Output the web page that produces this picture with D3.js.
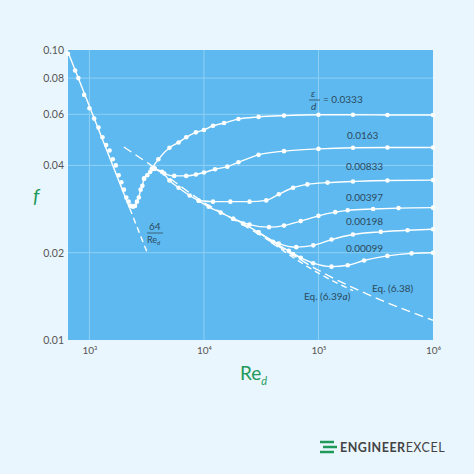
<!DOCTYPE html><html><head><script src="https://cdn.jsdelivr.net/npm/d3@7"></script>
<style>body{margin:0;background:#eaf6fd;font-family:Lato,"Open Sans",sans-serif}</style></head><body>
<svg id="c" width="474" height="474"></svg>
<script>
const xTicks=[1e3,1e4,1e5,1e6];
const xTickLabels=["10³","10⁴","10⁵","10⁶"];
const yTicks=[0.01,0.02,0.04,0.06,0.08,0.10];
const yTickLabels=["0.01","0.02","0.04","0.06","0.08","0.10"];
const laminarPts=[[650,0.097],[750,0.085],[800,0.08],[900,0.07],[1000,0.063],[1100,0.058],[1200,0.054],[1300,0.050],[1400,0.047],[1500,0.045],[1600,0.042],[1700,0.040],[1800,0.037],[1900,0.035],[2000,0.033],[2100,0.031],[2200,0.030],[2300,0.029],[2400,0.0288],[2500,0.029],[2600,0.030],[2700,0.031],[2800,0.033],[2900,0.034],[3000,0.036],[3200,0.037],[3400,0.038],[3700,0.039]];
const laminarLine=[[650,0.0985],[2250,0.0284]];
const laminarDash=[[2250,0.0284],[3200,0.020]];
const smoothPts=[[3700,0.039],[4300,0.038],[5000,0.0355],[6000,0.0335],[7500,0.0315],[9000,0.0302],[11000,0.0288],[14000,0.0275],[18000,0.0262],[22000,0.0252],[30000,0.0235],[40000,0.0218],[55000,0.0203],[70000,0.0192]];
const eq638=[[2000,0.0463],[4000,0.0385],[10000,0.0298],[20000,0.0255],[50000,0.0205],[100000,0.0174],[300000,0.0141],[1000000,0.0117]];
const eq639a=[[40000,0.0215],[100000,0.0170],[200000,0.0148]];
const series=[
 {label:"0.0333",pts:[[3000,0.036],[3500,0.039],[4000,0.042],[5000,0.046],[6000,0.048],[7000,0.050],[8500,0.052],[10000,0.053],[12000,0.0548],[15000,0.056],[20000,0.0578],[30000,0.0588],[50000,0.0594],[100000,0.0598],[200000,0.0598],[400000,0.0597],[1000000,0.0597]]},
 {label:"0.0163",pts:[[3700,0.039],[4500,0.0375],[5500,0.0368],[7000,0.0368],[8500,0.0372],[10000,0.0378],[12500,0.0388],[16000,0.0396],[20000,0.041],[30000,0.0435],[50000,0.0448],[100000,0.0456],[200000,0.046],[400000,0.0461],[1000000,0.0461]]},
 {label:"0.00833",pts:[[9000,0.0302],[12000,0.0300],[17000,0.0300],[25000,0.0300],[35000,0.0303],[45000,0.0318],[60000,0.0335],[80000,0.0344],[120000,0.0349],[200000,0.0352],[400000,0.0355],[1000000,0.0356]]},
 {label:"0.00397",pts:[[18000,0.0262],[25000,0.0250],[37000,0.0245],[50000,0.0248],[70000,0.0257],[100000,0.0268],[140000,0.0276],[180000,0.028],[300000,0.0283],[500000,0.0285],[1000000,0.0286]]},
 {label:"0.00198",pts:[[30000,0.0235],[45000,0.0215],[64000,0.0209],[90000,0.0212],[130000,0.0222],[200000,0.0231],[350000,0.0236],[600000,0.0239],[1000000,0.0241]]},
 {label:"0.00099",pts:[[60000,0.0198],[90000,0.0184],[130000,0.0179],[180000,0.0181],[250000,0.0188],[400000,0.0195],[650000,0.0199],[1000000,0.0200]]}
];
const labelPos=[[308,103],[347,139],[346,170],[346,201],[346,225],[346,252]];
const svg=d3.select("#c");
const L=68,R=433,T=50,B=340;
const x=d3.scaleLog().domain([650,1e6]).range([L,R]);
const y=d3.scaleLog().domain([0.01,0.1]).range([B,T]);
svg.append("rect").attr("x",L).attr("y",T).attr("width",R-L).attr("height",B-T).attr("fill","#5db9ef");
const g=svg.append("g");
xTicks.slice(0,3).forEach(t=>g.append("line").attr("x1",x(t)).attr("x2",x(t)).attr("y1",T).attr("y2",B).attr("stroke","#8fd0f5").attr("stroke-width",1));
[0.02,0.04,0.06,0.08].forEach(t=>g.append("line").attr("x1",L).attr("x2",R).attr("y1",y(t)).attr("y2",y(t)).attr("stroke","#8fd0f5").attr("stroke-width",1));
const ya=d3.axisLeft(y).tickValues(yTicks).tickFormat((d,i)=>yTickLabels[i]).tickSize(0).tickPadding(4);
const ga=svg.append("g").attr("transform",`translate(${L},0)`).call(ya);
ga.select(".domain").remove();
ga.selectAll("text").attr("fill","#555").style("font-size","10.5px").style("font-family","Lato");
const xa=d3.axisBottom(x).tickValues(xTicks).tickFormat((d,i)=>xTickLabels[i]).tickSize(0).tickPadding(7);
const gx=svg.append("g").attr("transform",`translate(0,${B})`).call(xa);
gx.select(".domain").remove();
gx.selectAll("text").attr("fill","#555").style("font-size","10px").style("font-family","Lato");
const line=d3.line().x(d=>x(d[0])).y(d=>y(d[1])).curve(d3.curveMonotoneX);
const W="#fff";
function path(d,dash,w){svg.append("path").datum(d).attr("d",line).attr("fill","none").attr("stroke",W).attr("stroke-width",w||1.4).attr("stroke-dasharray",dash||null);}
path(laminarLine);path(laminarDash,"6,4");
path(eq638,"9,5");path(eq639a,"6,4");
path(laminarPts.slice(18));path(smoothPts);
series.forEach(s=>path(s.pts));
function dots(pts){svg.append("g").selectAll("circle").data(pts).join("circle").attr("cx",d=>x(d[0])).attr("cy",d=>y(d[1])).attr("r",2.3).attr("fill",W);}
dots(laminarPts);dots(smoothPts);series.forEach(s=>dots(s.pts));
const tc="#2d4a5e";
series.forEach((s,i)=>{svg.append("text").attr("x",labelPos[i][0]+(i==0?15:0)).attr("y",labelPos[i][1]).text(i==0?"= "+s.label:s.label).attr("fill",tc).style("font-size","10px");});
const ed=svg.append("g").attr("fill",tc).style("font-size","10px");
ed.append("text").attr("x",311).attr("y",97).text("ε").style("font-style","italic");
ed.append("line").attr("x1",309).attr("x2",320).attr("y1",100).attr("y2",100).attr("stroke",tc).attr("stroke-width",0.8);
ed.append("text").attr("x",311).attr("y",110).text("d").style("font-style","italic");
svg.append("text").attr("x",372).attr("y",292).text("Eq. (6.38)").attr("fill",tc).style("font-size","10px");
const t2=svg.append("text").attr("x",304).attr("y",300).attr("fill",tc).style("font-size","10px");
t2.append("tspan").text("Eq. (6.39");t2.append("tspan").text("a").style("font-style","italic");t2.append("tspan").text(")");
svg.append("text").attr("x",149).attr("y",230).text("64").attr("fill",tc).style("font-size","10px");
svg.append("line").attr("x1",147).attr("x2",163).attr("y1",233).attr("y2",233).attr("stroke",tc).attr("stroke-width",0.8);
const r=svg.append("text").attr("x",147).attr("y",243).attr("fill",tc).style("font-size","9px");
r.append("tspan").text("Re");r.append("tspan").text("d").attr("dy",2).style("font-size","6px").style("font-style","italic");
svg.append("text").attr("x",33).attr("y",203).text("f").attr("fill","#1f9a5b").style("font-size","20px").style("font-style","italic");
const re=svg.append("text").attr("x",240).attr("y",380).attr("fill","#1f9a5b").style("font-size","19px");
re.append("tspan").text("Re");re.append("tspan").text("d").attr("dy",5).style("font-size","11px").style("font-style","italic");
const lg=svg.append("g");
[[0,0,14],[3,5,14],[0,10,14]].forEach(d=>lg.append("line").attr("x1",320+d[0]).attr("x2",320+d[0]+d[2]).attr("y1",442+d[1]).attr("y2",442+d[1]).attr("stroke","#1f9a5b").attr("stroke-width",2.5));
const lt=svg.append("text").attr("x",340).attr("y",452).style("font-size","12.5px").style("font-weight","bold").style("letter-spacing","0.5px");
lt.append("tspan").text("ENGINEER").attr("fill","#444");lt.append("tspan").text("EXCEL").attr("fill","#444").style("font-weight","normal");
</script></body></html>
